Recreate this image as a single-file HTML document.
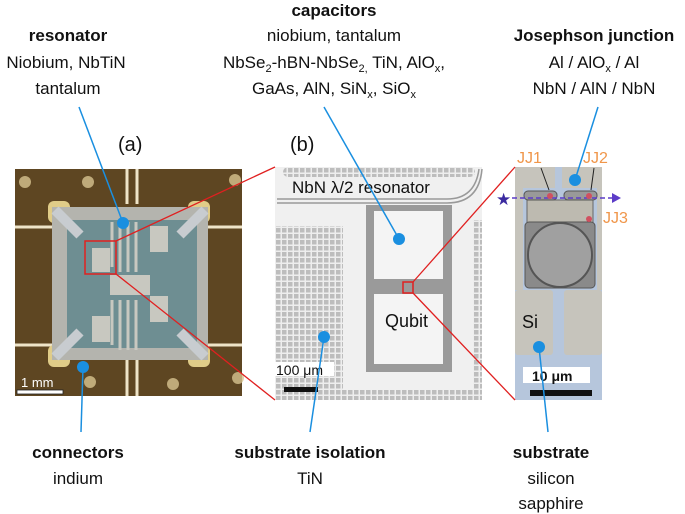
<!DOCTYPE html>
<html><head><style>
body{margin:0;background:#fff}
svg{display:block}
text{font-family:"Liberation Sans",sans-serif;fill:#111}
</style></head><body>
<svg width="685" height="514" viewBox="0 0 685 514" xmlns="http://www.w3.org/2000/svg">
<defs>
<pattern id="grid" width="6" height="6" patternUnits="userSpaceOnUse">
<rect width="6" height="6" fill="#eee"/><rect width="4.5" height="4.5" fill="#bdbdbd"/>
</pattern>
</defs>
<g font-size="17" text-anchor="middle">
<text x="68" y="41" font-weight="bold">resonator</text>
<text x="66" y="68">Niobium, NbTiN</text>
<text x="68" y="94">tantalum</text>
<text x="334" y="16" font-weight="bold">capacitors</text>
<text x="334" y="41">niobium, tantalum</text>
<text x="334" y="68">NbSe<tspan font-size="11" dy="4">2</tspan><tspan dy="-4">-hBN-NbSe</tspan><tspan font-size="11" dy="4">2,</tspan><tspan dy="-4"> TiN, AlO</tspan><tspan font-size="11" dy="4">x</tspan><tspan dy="-4">,</tspan></text>
<text x="334" y="94">GaAs, AlN, SiN<tspan font-size="11" dy="4">x</tspan><tspan dy="-4">, SiO</tspan><tspan font-size="11" dy="4">x</tspan></text>
<text x="594" y="41" font-weight="bold">Josephson junction</text>
<text x="594" y="68">Al / AlO<tspan font-size="11" dy="4">x</tspan><tspan dy="-4"> / Al</tspan></text>
<text x="594" y="94">NbN / AlN / NbN</text>
<text x="78" y="458" font-weight="bold">connectors</text>
<text x="78" y="484">indium</text>
<text x="310" y="458" font-weight="bold">substrate isolation</text>
<text x="310" y="484">TiN</text>
<text x="551" y="458" font-weight="bold">substrate</text>
<text x="551" y="484">silicon</text>
<text x="551" y="509">sapphire</text>
</g>
<text x="118" y="151" font-size="20">(a)</text>
<text x="290" y="151" font-size="20">(b)</text>

<rect x="15" y="169" width="227" height="227" fill="#5e4622"/>
<g fill="#d8c490" opacity=".8">
<circle cx="25" cy="182" r="6"/><circle cx="88" cy="182" r="6"/><circle cx="235" cy="180" r="6"/>
<circle cx="90" cy="382" r="6"/><circle cx="173" cy="384" r="6"/><circle cx="238" cy="378" r="6"/>
</g>
<g stroke="#eee4c8" stroke-width="3" fill="none">
<path d="M15 227h40M15 345h40M205 227h37M205 345h37"/>
<path d="M127 169v35M137 169v35M127 360v36M137 360v36"/>
</g>
<g fill="#e0cc88">
<rect x="48" y="201" width="22" height="22" rx="6"/><rect x="188" y="201" width="22" height="22" rx="6"/>
<rect x="48" y="345" width="22" height="22" rx="6"/><rect x="188" y="345" width="22" height="22" rx="6"/>
</g>
<rect x="52" y="207" width="156" height="153" fill="#b4b4ae"/>
<rect x="67" y="220" width="130" height="128" fill="#6e8e92"/>
<path d="M55 210l25 25M205 210l-25 25M55 357l25-25M205 357l-25-25" stroke="#c8ccd0" stroke-width="10"/>
<g stroke="#c8c8c0" stroke-width="3" fill="none">
<path d="M112 222v45M120 222v50M128 222v50M136 222v50"/>
<path d="M112 300v45M120 300v50M128 300v50M136 300v50"/>
</g>
<rect x="92" y="248" width="18" height="24" fill="#c8c8c0"/>
<rect x="150" y="226" width="18" height="26" fill="#c8c8c0"/>
<rect x="92" y="316" width="18" height="26" fill="#c8c8c0"/>
<rect x="150" y="296" width="18" height="26" fill="#c8c8c0"/>
<rect x="110" y="275" width="40" height="20" fill="#c8c8c0"/>
<rect x="85" y="241" width="31" height="33" fill="none" stroke="#e02020" stroke-width="1.5"/>
<rect x="17" y="390" width="46" height="4" fill="#fff" stroke="#222" stroke-width=".8"/>
<text x="21" y="387" font-size="13" style="fill:#fff">1 mm</text>

<rect x="275" y="167" width="207" height="233" fill="#f0f0f0"/>
<rect x="283" y="167" width="192" height="10" fill="url(#grid)" rx="5"/>
<path d="M277 199h170q28 0 32-30M277 203h170q32 0 35-34" fill="none" stroke="#999" stroke-width="1.5"/>
<text x="292" y="193" font-size="17">NbN λ/2 resonator</text>
<rect x="275" y="226" width="68" height="174" fill="url(#grid)"/>
<rect x="275" y="390" width="207" height="10" fill="url(#grid)"/>
<rect x="473" y="220" width="9" height="180" fill="url(#grid)"/>
<rect x="366" y="205" width="86" height="167" fill="#9a9a9a"/>
<rect x="374" y="211" width="69" height="68" fill="#f4f4f4"/>
<rect x="374" y="294" width="69" height="70" fill="#f4f4f4"/>
<text x="385" y="327" font-size="18">Qubit</text>
<rect x="403" y="282" width="10" height="11" fill="none" stroke="#e02020" stroke-width="1.5"/>
<rect x="275" y="362" width="59" height="14" fill="#fff"/>
<text x="276" y="375" font-size="14">100 μm</text>
<rect x="284" y="387" width="34" height="5" fill="#111"/>

<rect x="515" y="167" width="87" height="233" fill="#b6c6dc"/>
<rect x="515" y="167" width="40" height="21" fill="#c6c4bc"/>
<rect x="562" y="167" width="40" height="21" fill="#c6c4bc"/>
<rect x="515" y="188" width="8" height="102" fill="#c6c4bc"/>
<rect x="597" y="188" width="5" height="102" fill="#c6c4bc"/>
<rect x="515" y="290" width="38" height="65" fill="#c6c4bc" rx="3"/>
<rect x="564" y="290" width="38" height="65" fill="#c6c4bc" rx="3"/>
<rect x="527" y="200" width="66" height="25" fill="#bdbab0" stroke="#666"/>
<rect x="525" y="222" width="70" height="66" fill="#8a8a8a" stroke="#555" rx="4"/>
<circle cx="560" cy="255" r="32" fill="#a0a0a0" stroke="#555" stroke-width="2"/>
<rect x="524" y="191" width="33" height="9" fill="#999" stroke="#555" rx="4"/>
<rect x="564" y="191" width="33" height="9" fill="#999" stroke="#555" rx="4"/>
<rect x="523" y="367" width="67" height="16" fill="#fff"/>
<text x="532" y="381" font-size="14" font-weight="bold">10 μm</text>
<rect x="530" y="390" width="62" height="6" fill="#111"/>
<text x="522" y="328" font-size="18">Si</text>
<path d="M512 198h100" stroke="#5c3cc8" stroke-width="1.5" stroke-dasharray="5,3"/>
<path d="M612 193l9 5-9 5z" fill="#5c3cc8"/>
<text x="496" y="205" font-size="17" style="fill:#3a2aa0">★</text>
<circle cx="589" cy="196" r="3" fill="#d05060"/>
<circle cx="589" cy="219" r="3" fill="#d05060"/>
<circle cx="550" cy="196" r="3" fill="#d05060"/>
<text x="517" y="163" font-size="16" style="fill:#f0964a">JJ1</text>
<text x="583" y="163" font-size="16" style="fill:#f0964a">JJ2</text>
<text x="603" y="223" font-size="16" style="fill:#f0964a">JJ3</text>
<path d="M541 168l8 22M594 168l-3 22" stroke="#222" stroke-width="1"/>

<g stroke="#e02020" stroke-width="1.3">
<line x1="116" y1="241" x2="275" y2="167"/>
<line x1="116" y1="274" x2="275" y2="400"/>
<line x1="413" y1="282" x2="515" y2="167"/>
<line x1="413" y1="293" x2="515" y2="400"/>
</g>

<g stroke="#1a8fe0" stroke-width="1.5">
<line x1="79" y1="107" x2="123" y2="223"/>
<line x1="324" y1="107" x2="399" y2="239"/>
<line x1="598" y1="107" x2="575" y2="180"/>
<line x1="83" y1="367" x2="81" y2="432"/>
<line x1="324" y1="337" x2="310" y2="432"/>
<line x1="539" y1="347" x2="548" y2="432"/>
</g>
<g fill="#1a8fe0">
<circle cx="123" cy="223" r="6"/>
<circle cx="399" cy="239" r="6"/>
<circle cx="575" cy="180" r="6"/>
<circle cx="83" cy="367" r="6"/>
<circle cx="324" cy="337" r="6"/>
<circle cx="539" cy="347" r="6"/>
</g>
</svg>
</body></html>
